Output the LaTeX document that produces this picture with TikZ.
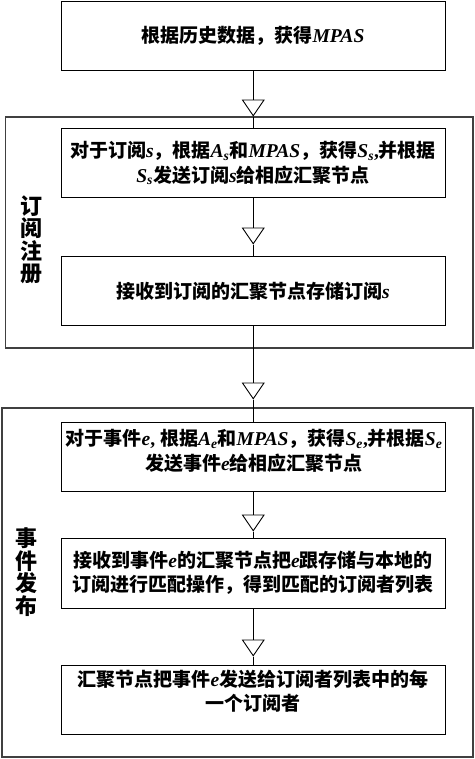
\documentclass[tikz,border=0pt]{standalone}
\usepackage{fontspec}
\setmainfont{Noto Sans CJK SC}
\newfontfamily\latinserif{Liberation Serif}[Scale=1.03]
\usetikzlibrary{arrows.meta}
\newcommand\mi[1]{{\latinserif\bfseries\itshape #1}}
\newcommand\msub[1]{\textsubscript{\mi{#1}}}
\tikzset{
  box/.style={draw=black, line width=0.9pt, minimum width=383.5pt, minimum height=69pt, inner sep=0pt},
  txt/.style={align=center, font=\fontsize{19}{24.5}\selectfont\bfseries, inner sep=0pt},
  grp/.style={draw=black!75, line width=1.3pt, inner sep=0pt},
  lbl/.style={align=center, font=\fontsize{22}{22.5}\selectfont\bfseries, inner sep=0pt},
  conn/.style={draw=black, line width=0.9pt},
  tri/.style={-{Triangle[open, length=17pt, width=23pt]}}
}
\begin{document}
\begin{tikzpicture}[x=1pt,y=-1pt]
\useasboundingbox (0,0) rectangle (474,759);
% groups
\node[grp, minimum width=467.5pt, minimum height=231pt] (g1) at (239.25,232.5) {};
\node[grp, minimum width=471pt, minimum height=349pt] (g2) at (237.5,582.5) {};
\node[lbl] (l1) at (31,240) {订\\阅\\注\\册};
\node[lbl] (l2) at (26,572) {事\\件\\发\\布};
% boxes
\node[box, fill=white] (b1) at (253.25,35.5) {};
\node[box, fill=white] (b2) at (253.25,162.5) {};
\node[box, fill=white] (b3) at (253.25,290.5) {};
\node[box, fill=white] (b4) at (253.25,456.5) {};
\node[box, fill=white, minimum height=70pt] (b5) at (253.25,573) {};
\node[box, fill=white] (b6) at (253.25,699.5) {};
% texts
\node[txt] (t1) at (253,36) {根据历史数据，获得\mi{MPAS}};
\node[txt] (t2) at (253,163) {对于订阅\mi{s}，根据\mi{A}\msub{s}和\mi{MPAS}，获得\mi{S}\msub{s}{\latinserif\bfseries,}并根据\\\mi{S}\msub{s}发送订阅\mi{s}给相应汇聚节点};
\node[txt] (t3) at (253,291) {接收到订阅的汇聚节点存储订阅\mi{s}};
\node[txt] (t4) at (254,451) {对于事件\mi{e}{\latinserif\bfseries, }根据\mi{A}\msub{e}和\mi{MPAS}，获得\mi{S}\msub{e}{\latinserif\bfseries,}并根据\mi{S}\msub{e}\\发送事件\mi{e}给相应汇聚节点};
\node[txt] (t5) at (253,573) {接收到事件\mi{e}的汇聚节点把\mi{e}跟存储与本地的\\订阅进行匹配操作，得到匹配的订阅者列表};
\node[txt] (t6) at (253,691) {汇聚节点把事件\mi{e}发送给订阅者列表中的每\\一个订阅者};
% arrow points
\coordinate (a1) at ([yshift=11pt]b2.north);
\coordinate (a2) at ([yshift=11pt]b3.north);
\coordinate (a3) at ([yshift=22pt]b4.north);
\coordinate (a4) at ([yshift=6pt]b5.north);
\coordinate (a5) at ([yshift=8pt]b6.north);
% connectors
\draw[conn, tri] (b1.south) -- (a1);
\draw[conn] (a1) -- (b2.north);
\draw[conn, tri] (b2.south) -- (a2);
\draw[conn] (a2) -- (b3.north);
\draw[conn, tri] (b3.south) -- (a3);
\draw[conn] (a3) -- (b4.north);
\draw[conn, tri] (b4.south) -- (a4);
\draw[conn] (a4) -- (b5.north);
\draw[conn, tri] (b5.south) -- (a5);
\draw[conn] (a5) -- (b6.north);
\end{tikzpicture}
\end{document}
